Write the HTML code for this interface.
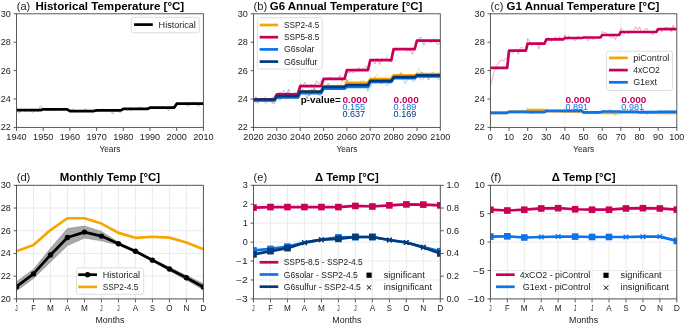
<!DOCTYPE html>
<html><head><meta charset="utf-8"><style>html,body{margin:0;padding:0;background:#fff;overflow:hidden}svg{display:block;will-change:transform}text{font-family:"Liberation Sans",sans-serif}</style></head><body>
<svg width="685" height="324" viewBox="0 0 685 324" font-family="Liberation Sans, sans-serif">
<rect width="685" height="324" fill="#ffffff"/>
<clipPath id="ca"><rect x="16.5" y="13.8" width="186.9" height="113.60000000000001"/></clipPath>
<g clip-path="url(#ca)">
<polyline points="16.50,107.47 19.17,113.34 21.84,109.54 24.51,110.80 27.18,110.65 29.85,110.35 32.52,112.66 35.19,110.37 37.86,111.18 40.53,105.83 43.20,109.08 45.87,109.82 48.54,109.73 51.21,110.22 53.88,110.71 56.55,109.87 59.22,108.75 61.89,109.67 64.56,108.14 67.23,109.62 69.90,111.04 72.57,109.09 75.24,110.37 77.91,111.72 80.58,111.30 83.25,110.38 85.92,108.60 88.59,111.41 91.26,111.38 93.93,109.79 96.60,111.49 99.27,110.73 101.94,109.23 104.61,109.62 107.28,110.24 109.95,109.50 112.62,113.97 115.29,109.05 117.96,111.59 120.63,112.49 123.30,108.59 125.97,108.04 128.64,109.51 131.31,110.32 133.98,108.91 136.65,109.01 139.32,107.14 141.99,107.98 144.66,108.69 147.33,107.52 150.00,107.92 152.67,108.85 155.34,106.92 158.01,106.92 160.68,107.94 163.35,108.66 166.02,107.37 168.69,110.85 171.36,106.78 174.03,107.03 176.70,105.78 179.37,103.61 182.04,104.92 184.71,102.72 187.38,106.29 190.05,104.85 192.72,102.78 195.39,102.21 198.06,106.44 200.73,104.32 203.40,103.27" fill="none" stroke="#a0a0a0" stroke-width="0.7" stroke-linejoin="round" stroke-linecap="butt" />
<polyline points="16.50,110.08 19.17,110.08 21.84,110.08 24.51,110.08 27.18,110.08 29.85,110.08 32.52,110.08 35.19,110.08 37.86,110.08 40.53,110.08 43.20,109.37 45.87,109.37 48.54,109.37 51.21,109.37 53.88,109.37 56.55,109.37 59.22,109.37 61.89,109.37 64.56,109.37 67.23,109.37 69.90,111.07 72.57,111.07 75.24,111.07 77.91,111.07 80.58,111.07 83.25,111.07 85.92,111.07 88.59,111.07 91.26,111.07 93.93,111.07 96.60,110.36 99.27,110.36 101.94,110.36 104.61,110.36 107.28,110.36 109.95,110.36 112.62,110.36 115.29,110.36 117.96,110.36 120.63,110.36 123.30,108.94 125.97,108.94 128.64,108.94 131.31,108.94 133.98,108.94 136.65,108.94 139.32,108.94 141.99,108.94 144.66,108.94 147.33,108.94 150.00,107.66 152.67,107.66 155.34,107.66 158.01,107.66 160.68,107.66 163.35,107.66 166.02,107.66 168.69,107.66 171.36,107.66 174.03,107.66 176.70,103.69 179.37,103.69 182.04,103.69 184.71,103.69 187.38,103.69 190.05,103.69 192.72,103.69 195.39,103.69 198.06,103.69 200.73,103.69 203.40,103.69" fill="none" stroke="#000000" stroke-width="2.7" stroke-linejoin="round" stroke-linecap="butt" />
</g>
<rect x="16.5" y="13.8" width="186.90" height="113.60" fill="none" stroke="#474747" stroke-width="0.9"/>
<line x1="16.50" y1="127.40" x2="16.50" y2="130.90" stroke="#474747" stroke-width="0.9" />
<text x="6.38" y="139.70" font-size="8.42" textLength="20.23" lengthAdjust="spacingAndGlyphs" fill="#1c1c1c">1940</text>
<line x1="43.20" y1="127.40" x2="43.20" y2="130.90" stroke="#474747" stroke-width="0.9" />
<text x="33.08" y="139.70" font-size="8.42" textLength="20.23" lengthAdjust="spacingAndGlyphs" fill="#1c1c1c">1950</text>
<line x1="69.90" y1="127.40" x2="69.90" y2="130.90" stroke="#474747" stroke-width="0.9" />
<text x="59.78" y="139.70" font-size="8.42" textLength="20.23" lengthAdjust="spacingAndGlyphs" fill="#1c1c1c">1960</text>
<line x1="96.60" y1="127.40" x2="96.60" y2="130.90" stroke="#474747" stroke-width="0.9" />
<text x="86.48" y="139.70" font-size="8.42" textLength="20.23" lengthAdjust="spacingAndGlyphs" fill="#1c1c1c">1970</text>
<line x1="123.30" y1="127.40" x2="123.30" y2="130.90" stroke="#474747" stroke-width="0.9" />
<text x="113.18" y="139.70" font-size="8.42" textLength="20.23" lengthAdjust="spacingAndGlyphs" fill="#1c1c1c">1980</text>
<line x1="150.00" y1="127.40" x2="150.00" y2="130.90" stroke="#474747" stroke-width="0.9" />
<text x="139.88" y="139.70" font-size="8.42" textLength="20.23" lengthAdjust="spacingAndGlyphs" fill="#1c1c1c">1990</text>
<line x1="176.70" y1="127.40" x2="176.70" y2="130.90" stroke="#474747" stroke-width="0.9" />
<text x="166.58" y="139.70" font-size="8.42" textLength="20.23" lengthAdjust="spacingAndGlyphs" fill="#1c1c1c">2000</text>
<line x1="203.40" y1="127.40" x2="203.40" y2="130.90" stroke="#474747" stroke-width="0.9" />
<text x="193.28" y="139.70" font-size="8.42" textLength="20.23" lengthAdjust="spacingAndGlyphs" fill="#1c1c1c">2010</text>
<line x1="13.60" y1="127.40" x2="16.50" y2="127.40" stroke="#474747" stroke-width="0.9" />
<text x="0.68" y="130.40" font-size="8.42" textLength="10.12" lengthAdjust="spacingAndGlyphs" fill="#1c1c1c">22</text>
<line x1="13.60" y1="99.00" x2="16.50" y2="99.00" stroke="#474747" stroke-width="0.9" />
<text x="0.68" y="102.00" font-size="8.42" textLength="10.12" lengthAdjust="spacingAndGlyphs" fill="#1c1c1c">24</text>
<line x1="13.60" y1="70.60" x2="16.50" y2="70.60" stroke="#474747" stroke-width="0.9" />
<text x="0.68" y="73.60" font-size="8.42" textLength="10.12" lengthAdjust="spacingAndGlyphs" fill="#1c1c1c">26</text>
<line x1="13.60" y1="42.20" x2="16.50" y2="42.20" stroke="#474747" stroke-width="0.9" />
<text x="0.68" y="45.20" font-size="8.42" textLength="10.12" lengthAdjust="spacingAndGlyphs" fill="#1c1c1c">28</text>
<line x1="13.60" y1="13.80" x2="16.50" y2="13.80" stroke="#474747" stroke-width="0.9" />
<text x="0.68" y="16.80" font-size="8.42" textLength="10.12" lengthAdjust="spacingAndGlyphs" fill="#1c1c1c">30</text>
<text x="99.46" y="151.60" font-size="8.42" textLength="20.97" lengthAdjust="spacingAndGlyphs" fill="#1c1c1c">Years</text>
<text x="16.75" y="9.50" font-size="10.23" textLength="13.44" lengthAdjust="spacingAndGlyphs" fill="#1c1c1c">(a)</text>
<text x="35.40" y="9.50" font-size="10.23" textLength="148.84" lengthAdjust="spacingAndGlyphs" font-weight="bold" fill="#000">Historical Temperature [°C]</text>
<rect x="131.40" y="17.30" width="68.00" height="15.50" rx="2" ry="2" fill="#ffffff" fill-opacity="0.92" stroke="#d6d6d6" stroke-width="0.8"/>
<line x1="134.10" y1="24.60" x2="152.80" y2="24.60" stroke="#000" stroke-width="2.7" />
<text x="158.60" y="27.60" font-size="8.42" textLength="37.24" lengthAdjust="spacingAndGlyphs" fill="#1c1c1c">Historical</text>
<clipPath id="cb"><rect x="253.5" y="13.8" width="186.8" height="113.60000000000001"/></clipPath>
<line x1="300.20" y1="13.80" x2="300.20" y2="127.40" stroke="#c9d3dc" stroke-width="0.8" stroke-dasharray="1,1.6"/>
<line x1="370.25" y1="13.80" x2="370.25" y2="127.40" stroke="#c9d3dc" stroke-width="0.8" stroke-dasharray="1,1.6"/>
<g clip-path="url(#cb)">
<polyline points="253.50,101.07 255.84,95.76 258.17,102.48 260.50,98.74 262.84,102.13 265.18,96.21 267.51,99.65 269.85,100.50 272.18,103.75 274.51,95.54 276.85,94.18 279.19,94.18 281.52,93.25 283.86,95.16 286.19,97.54 288.52,97.93 290.86,97.93 293.19,92.69 295.53,99.53 297.87,97.44 300.20,92.28 302.54,90.96 304.87,90.11 307.20,94.52 309.54,95.68 311.88,91.51 314.21,88.57 316.55,89.67 318.88,90.98 321.22,92.27 323.55,85.69 325.88,86.99 328.22,84.43 330.56,88.32 332.89,86.08 335.23,86.67 337.56,85.09 339.89,85.86 342.23,80.24 344.56,82.78 346.90,79.19 349.24,87.72 351.57,83.62 353.90,84.27 356.24,81.51 358.57,88.30 360.91,79.96 363.25,80.22 365.58,85.94 367.92,85.16 370.25,81.03 372.58,79.00 374.92,77.55 377.25,74.16 379.59,79.58 381.93,77.25 384.26,78.72 386.60,74.85 388.93,77.31 391.26,75.80 393.60,78.00 395.94,75.86 398.27,77.36 400.61,71.77 402.94,73.81 405.27,76.14 407.61,76.49 409.95,74.23 412.28,77.09 414.62,77.65 416.95,72.94 419.28,68.15 421.62,74.69 423.96,75.44 426.29,76.93 428.62,77.32 430.96,72.83 433.30,72.05 435.63,74.08 437.97,73.30 440.30,73.82" fill="none" stroke="#F7A600" stroke-width="0.7" stroke-linejoin="round" stroke-linecap="butt" stroke-opacity="0.5"/>
<polyline points="253.50,99.07 255.84,103.08 258.17,100.51 260.50,99.13 262.84,101.29 265.18,100.55 267.51,101.38 269.85,100.21 272.18,97.34 274.51,100.38 276.85,94.67 279.19,92.34 281.52,92.74 283.86,90.21 286.19,99.35 288.52,92.23 290.86,95.46 293.19,93.97 295.53,92.28 297.87,91.69 300.20,83.69 302.54,85.83 304.87,82.31 307.20,86.88 309.54,86.54 311.88,84.27 314.21,87.53 316.55,80.98 318.88,83.74 321.22,80.95 323.55,78.96 325.88,79.82 328.22,78.50 330.56,77.13 332.89,80.32 335.23,77.98 337.56,78.94 339.89,75.00 342.23,80.50 344.56,76.37 346.90,71.65 349.24,72.42 351.57,71.81 353.90,72.97 356.24,69.75 358.57,67.61 360.91,69.70 363.25,68.59 365.58,66.16 367.92,69.45 370.25,59.73 372.58,60.86 374.92,64.08 377.25,58.37 379.59,64.44 381.93,58.62 384.26,60.23 386.60,57.48 388.93,60.36 391.26,62.19 393.60,48.24 395.94,50.45 398.27,49.54 400.61,49.00 402.94,49.42 405.27,49.56 407.61,51.11 409.95,49.56 412.28,54.26 414.62,49.48 416.95,43.49 419.28,37.90 421.62,37.53 423.96,45.31 426.29,40.25 428.62,40.91 430.96,43.13 433.30,39.32 435.63,41.71 437.97,44.87 440.30,41.24" fill="none" stroke="#C8005A" stroke-width="0.7" stroke-linejoin="round" stroke-linecap="butt" stroke-opacity="0.5"/>
<polyline points="253.50,100.76 255.84,100.14 258.17,103.37 260.50,98.91 262.84,98.62 265.18,103.17 267.51,101.99 269.85,100.59 272.18,101.77 274.51,96.19 276.85,97.00 279.19,99.94 281.52,99.40 283.86,97.64 286.19,91.96 288.52,97.93 290.86,97.19 293.19,96.26 295.53,97.60 297.87,91.99 300.20,94.48 302.54,91.40 304.87,92.81 307.20,91.70 309.54,96.04 311.88,88.93 314.21,93.49 316.55,93.12 318.88,95.46 321.22,94.96 323.55,87.24 325.88,86.22 328.22,86.78 330.56,85.68 332.89,86.88 335.23,88.53 337.56,86.58 339.89,87.17 342.23,88.84 344.56,86.85 346.90,83.80 349.24,86.33 351.57,87.76 353.90,85.17 356.24,82.31 358.57,87.41 360.91,87.12 363.25,87.23 365.58,83.95 367.92,91.33 370.25,81.12 372.58,79.12 374.92,83.96 377.25,78.41 379.59,80.71 381.93,83.33 384.26,81.51 386.60,85.70 388.93,83.37 391.26,77.59 393.60,80.36 395.94,73.75 398.27,78.40 400.61,75.80 402.94,78.09 405.27,83.61 407.61,79.58 409.95,77.74 412.28,80.98 414.62,81.45 416.95,75.42 419.28,77.87 421.62,80.39 423.96,77.95 426.29,74.22 428.62,77.44 430.96,74.04 433.30,72.61 435.63,76.22 437.97,79.03 440.30,79.44" fill="none" stroke="#0C73EB" stroke-width="0.7" stroke-linejoin="round" stroke-linecap="butt" stroke-opacity="0.5"/>
<polyline points="253.50,99.66 255.84,97.47 258.17,98.95 260.50,98.28 262.84,100.67 265.18,98.87 267.51,100.74 269.85,100.39 272.18,102.72 274.51,103.40 276.85,97.36 279.19,98.87 281.52,98.51 283.86,94.58 286.19,96.46 288.52,89.17 290.86,93.96 293.19,97.73 295.53,94.32 297.87,95.34 300.20,93.26 302.54,88.94 304.87,93.47 307.20,98.98 309.54,89.68 311.88,93.09 314.21,88.01 316.55,93.17 318.88,94.45 321.22,87.86 323.55,89.40 325.88,86.31 328.22,83.30 330.56,86.52 332.89,86.99 335.23,86.55 337.56,84.77 339.89,88.75 342.23,85.33 344.56,85.41 346.90,79.37 349.24,85.81 351.57,87.21 353.90,83.22 356.24,85.96 358.57,84.30 360.91,84.68 363.25,82.18 365.58,86.59 367.92,85.22 370.25,87.06 372.58,83.05 374.92,77.19 377.25,82.55 379.59,82.59 381.93,83.84 384.26,79.50 386.60,80.47 388.93,83.77 391.26,79.29 393.60,76.57 395.94,75.38 398.27,78.75 400.61,73.00 402.94,76.21 405.27,77.48 407.61,78.45 409.95,77.79 412.28,75.13 414.62,77.85 416.95,72.80 419.28,74.00 421.62,72.15 423.96,73.43 426.29,75.55 428.62,80.01 430.96,74.68 433.30,73.50 435.63,75.01 437.97,74.06 440.30,76.54" fill="none" stroke="#033B79" stroke-width="0.7" stroke-linejoin="round" stroke-linecap="butt" stroke-opacity="0.5"/>
<polyline points="253.50,99.60 255.84,99.60 258.17,99.60 260.50,99.60 262.84,99.60 265.18,99.60 267.51,99.60 269.85,99.60 272.18,99.60 274.51,99.60 276.85,96.00 279.19,96.00 281.52,96.00 283.86,96.00 286.19,96.00 288.52,96.00 290.86,96.00 293.19,96.00 295.53,96.00 297.87,96.00 300.20,91.50 302.54,91.50 304.87,91.50 307.20,91.50 309.54,91.50 311.88,91.50 314.21,91.50 316.55,91.50 318.88,91.50 321.22,91.50 323.55,86.40 325.88,86.40 328.22,86.40 330.56,86.40 332.89,86.40 335.23,86.40 337.56,86.40 339.89,86.40 342.23,86.40 344.56,86.40 346.90,82.80 349.24,82.80 351.57,82.80 353.90,82.80 356.24,82.80 358.57,82.80 360.91,82.80 363.25,82.80 365.58,82.80 367.92,82.80 370.25,79.10 372.58,79.10 374.92,79.10 377.25,79.10 379.59,79.10 381.93,79.10 384.26,79.10 386.60,79.10 388.93,79.10 391.26,79.10 393.60,75.40 395.94,75.40 398.27,75.40 400.61,75.40 402.94,75.40 405.27,75.40 407.61,75.40 409.95,75.40 412.28,75.40 414.62,75.40 416.95,74.10 419.28,74.10 421.62,74.10 423.96,74.10 426.29,74.10 428.62,74.10 430.96,74.10 433.30,74.10 435.63,74.10 437.97,74.10 440.30,74.10" fill="none" stroke="#F7A600" stroke-width="2.7" stroke-linejoin="round" stroke-linecap="butt" />
<polyline points="253.50,99.40 255.84,99.40 258.17,99.40 260.50,99.40 262.84,99.40 265.18,99.40 267.51,99.40 269.85,99.40 272.18,99.40 274.51,99.40 276.85,94.30 279.19,94.30 281.52,94.30 283.86,94.30 286.19,94.30 288.52,94.30 290.86,94.30 293.19,94.30 295.53,94.30 297.87,94.30 300.20,86.20 302.54,86.20 304.87,86.20 307.20,86.20 309.54,86.20 311.88,86.20 314.21,86.20 316.55,86.20 318.88,86.20 321.22,86.20 323.55,78.90 325.88,78.90 328.22,78.90 330.56,78.90 332.89,78.90 335.23,78.90 337.56,78.90 339.89,78.90 342.23,78.90 344.56,78.90 346.90,70.10 349.24,70.10 351.57,70.10 353.90,70.10 356.24,70.10 358.57,70.10 360.91,70.10 363.25,70.10 365.58,70.10 367.92,70.10 370.25,60.20 372.58,60.20 374.92,60.20 377.25,60.20 379.59,60.20 381.93,60.20 384.26,60.20 386.60,60.20 388.93,60.20 391.26,60.20 393.60,49.10 395.94,49.10 398.27,49.10 400.61,49.10 402.94,49.10 405.27,49.10 407.61,49.10 409.95,49.10 412.28,49.10 414.62,49.10 416.95,40.60 419.28,40.60 421.62,40.60 423.96,40.60 426.29,40.60 428.62,40.60 430.96,40.60 433.30,40.60 435.63,40.60 437.97,40.60 440.30,40.60" fill="none" stroke="#C8005A" stroke-width="2.7" stroke-linejoin="round" stroke-linecap="butt" />
<polyline points="253.50,100.40 255.84,100.40 258.17,100.40 260.50,100.40 262.84,100.40 265.18,100.40 267.51,100.40 269.85,100.40 272.18,100.40 274.51,100.40 276.85,97.50 279.19,97.50 281.52,97.50 283.86,97.50 286.19,97.50 288.52,97.50 290.86,97.50 293.19,97.50 295.53,97.50 297.87,97.50 300.20,93.20 302.54,93.20 304.87,93.20 307.20,93.20 309.54,93.20 311.88,93.20 314.21,93.20 316.55,93.20 318.88,93.20 321.22,93.20 323.55,88.60 325.88,88.60 328.22,88.60 330.56,88.60 332.89,88.60 335.23,88.60 337.56,88.60 339.89,88.60 342.23,88.60 344.56,88.60 346.90,86.90 349.24,86.90 351.57,86.90 353.90,86.90 356.24,86.90 358.57,86.90 360.91,86.90 363.25,86.90 365.58,86.90 367.92,86.90 370.25,82.00 372.58,82.00 374.92,82.00 377.25,82.00 379.59,82.00 381.93,82.00 384.26,82.00 386.60,82.00 388.93,82.00 391.26,82.00 393.60,78.20 395.94,78.20 398.27,78.20 400.61,78.20 402.94,78.20 405.27,78.20 407.61,78.20 409.95,78.20 412.28,78.20 414.62,78.20 416.95,76.30 419.28,76.30 421.62,76.30 423.96,76.30 426.29,76.30 428.62,76.30 430.96,76.30 433.30,76.30 435.63,76.30 437.97,76.30 440.30,76.30" fill="none" stroke="#0C73EB" stroke-width="2.7" stroke-linejoin="round" stroke-linecap="butt" />
<polyline points="253.50,99.60 255.84,99.60 258.17,99.60 260.50,99.60 262.84,99.60 265.18,99.60 267.51,99.60 269.85,99.60 272.18,99.60 274.51,99.60 276.85,96.20 279.19,96.20 281.52,96.20 283.86,96.20 286.19,96.20 288.52,96.20 290.86,96.20 293.19,96.20 295.53,96.20 297.87,96.20 300.20,91.60 302.54,91.60 304.87,91.60 307.20,91.60 309.54,91.60 311.88,91.60 314.21,91.60 316.55,91.60 318.88,91.60 321.22,91.60 323.55,86.80 325.88,86.80 328.22,86.80 330.56,86.80 332.89,86.80 335.23,86.80 337.56,86.80 339.89,86.80 342.23,86.80 344.56,86.80 346.90,85.00 349.24,85.00 351.57,85.00 353.90,85.00 356.24,85.00 358.57,85.00 360.91,85.00 363.25,85.00 365.58,85.00 367.92,85.00 370.25,80.90 372.58,80.90 374.92,80.90 377.25,80.90 379.59,80.90 381.93,80.90 384.26,80.90 386.60,80.90 388.93,80.90 391.26,80.90 393.60,77.20 395.94,77.20 398.27,77.20 400.61,77.20 402.94,77.20 405.27,77.20 407.61,77.20 409.95,77.20 412.28,77.20 414.62,77.20 416.95,75.40 419.28,75.40 421.62,75.40 423.96,75.40 426.29,75.40 428.62,75.40 430.96,75.40 433.30,75.40 435.63,75.40 437.97,75.40 440.30,75.40" fill="none" stroke="#033B79" stroke-width="2.7" stroke-linejoin="round" stroke-linecap="butt" />
</g>
<rect x="253.5" y="13.8" width="186.80" height="113.60" fill="none" stroke="#474747" stroke-width="0.9"/>
<line x1="253.50" y1="127.40" x2="253.50" y2="130.90" stroke="#474747" stroke-width="0.9" />
<text x="243.38" y="139.70" font-size="8.42" textLength="20.23" lengthAdjust="spacingAndGlyphs" fill="#1c1c1c">2020</text>
<line x1="276.85" y1="127.40" x2="276.85" y2="130.90" stroke="#474747" stroke-width="0.9" />
<text x="266.73" y="139.70" font-size="8.42" textLength="20.23" lengthAdjust="spacingAndGlyphs" fill="#1c1c1c">2030</text>
<line x1="300.20" y1="127.40" x2="300.20" y2="130.90" stroke="#474747" stroke-width="0.9" />
<text x="290.08" y="139.70" font-size="8.42" textLength="20.23" lengthAdjust="spacingAndGlyphs" fill="#1c1c1c">2040</text>
<line x1="323.55" y1="127.40" x2="323.55" y2="130.90" stroke="#474747" stroke-width="0.9" />
<text x="313.43" y="139.70" font-size="8.42" textLength="20.23" lengthAdjust="spacingAndGlyphs" fill="#1c1c1c">2050</text>
<line x1="346.90" y1="127.40" x2="346.90" y2="130.90" stroke="#474747" stroke-width="0.9" />
<text x="336.78" y="139.70" font-size="8.42" textLength="20.23" lengthAdjust="spacingAndGlyphs" fill="#1c1c1c">2060</text>
<line x1="370.25" y1="127.40" x2="370.25" y2="130.90" stroke="#474747" stroke-width="0.9" />
<text x="360.13" y="139.70" font-size="8.42" textLength="20.23" lengthAdjust="spacingAndGlyphs" fill="#1c1c1c">2070</text>
<line x1="393.60" y1="127.40" x2="393.60" y2="130.90" stroke="#474747" stroke-width="0.9" />
<text x="383.48" y="139.70" font-size="8.42" textLength="20.23" lengthAdjust="spacingAndGlyphs" fill="#1c1c1c">2080</text>
<line x1="416.95" y1="127.40" x2="416.95" y2="130.90" stroke="#474747" stroke-width="0.9" />
<text x="406.83" y="139.70" font-size="8.42" textLength="20.23" lengthAdjust="spacingAndGlyphs" fill="#1c1c1c">2090</text>
<line x1="440.30" y1="127.40" x2="440.30" y2="130.90" stroke="#474747" stroke-width="0.9" />
<text x="430.18" y="139.70" font-size="8.42" textLength="20.23" lengthAdjust="spacingAndGlyphs" fill="#1c1c1c">2100</text>
<line x1="250.60" y1="127.40" x2="253.50" y2="127.40" stroke="#474747" stroke-width="0.9" />
<text x="237.68" y="130.40" font-size="8.42" textLength="10.12" lengthAdjust="spacingAndGlyphs" fill="#1c1c1c">22</text>
<line x1="250.60" y1="99.00" x2="253.50" y2="99.00" stroke="#474747" stroke-width="0.9" />
<text x="237.68" y="102.00" font-size="8.42" textLength="10.12" lengthAdjust="spacingAndGlyphs" fill="#1c1c1c">24</text>
<line x1="250.60" y1="70.60" x2="253.50" y2="70.60" stroke="#474747" stroke-width="0.9" />
<text x="237.68" y="73.60" font-size="8.42" textLength="10.12" lengthAdjust="spacingAndGlyphs" fill="#1c1c1c">26</text>
<line x1="250.60" y1="42.20" x2="253.50" y2="42.20" stroke="#474747" stroke-width="0.9" />
<text x="237.68" y="45.20" font-size="8.42" textLength="10.12" lengthAdjust="spacingAndGlyphs" fill="#1c1c1c">28</text>
<line x1="250.60" y1="13.80" x2="253.50" y2="13.80" stroke="#474747" stroke-width="0.9" />
<text x="237.68" y="16.80" font-size="8.42" textLength="10.12" lengthAdjust="spacingAndGlyphs" fill="#1c1c1c">30</text>
<text x="336.41" y="151.60" font-size="8.42" textLength="20.97" lengthAdjust="spacingAndGlyphs" fill="#1c1c1c">Years</text>
<text x="253.60" y="9.50" font-size="10.23" textLength="13.66" lengthAdjust="spacingAndGlyphs" fill="#1c1c1c">(b)</text>
<text x="269.70" y="9.50" font-size="10.23" textLength="152.75" lengthAdjust="spacingAndGlyphs" font-weight="bold" fill="#000">G6 Annual Temperature [°C]</text>
<rect x="257.40" y="17.60" width="64.80" height="51.40" rx="2" ry="2" fill="#ffffff" fill-opacity="0.92" stroke="#d6d6d6" stroke-width="0.8"/>
<line x1="259.60" y1="25.00" x2="278.10" y2="25.00" stroke="#F7A600" stroke-width="2.7" />
<text x="283.90" y="28.00" font-size="8.42" textLength="35.46" lengthAdjust="spacingAndGlyphs" fill="#1c1c1c">SSP2-4.5</text>
<line x1="259.60" y1="37.20" x2="278.10" y2="37.20" stroke="#C8005A" stroke-width="2.7" />
<text x="283.90" y="40.20" font-size="8.42" textLength="35.46" lengthAdjust="spacingAndGlyphs" fill="#1c1c1c">SSP5-8.5</text>
<line x1="259.60" y1="49.40" x2="278.10" y2="49.40" stroke="#0C73EB" stroke-width="2.7" />
<text x="283.90" y="52.40" font-size="8.42" textLength="30.57" lengthAdjust="spacingAndGlyphs" fill="#1c1c1c">G6solar</text>
<line x1="259.60" y1="61.60" x2="278.10" y2="61.60" stroke="#033B79" stroke-width="2.7" />
<text x="283.90" y="64.60" font-size="8.42" textLength="33.71" lengthAdjust="spacingAndGlyphs" fill="#1c1c1c">G6sulfur</text>
<text x="300.80" y="102.80" font-size="8.42" textLength="39.98" lengthAdjust="spacingAndGlyphs" font-weight="bold" fill="#000000">p-value=</text>
<text x="342.40" y="102.80" font-size="8.42" textLength="25.15" lengthAdjust="spacingAndGlyphs" font-weight="bold" fill="#C8005A">0.000</text>
<text x="342.40" y="109.70" font-size="8.42" textLength="22.76" lengthAdjust="spacingAndGlyphs" fill="#0C73EB">0.155</text>
<text x="342.40" y="116.70" font-size="8.42" textLength="22.76" lengthAdjust="spacingAndGlyphs" fill="#033B79">0.637</text>
<text x="393.60" y="102.80" font-size="8.42" textLength="25.15" lengthAdjust="spacingAndGlyphs" font-weight="bold" fill="#C8005A">0.000</text>
<text x="393.60" y="109.70" font-size="8.42" textLength="22.76" lengthAdjust="spacingAndGlyphs" fill="#0C73EB">0.189</text>
<text x="393.60" y="116.70" font-size="8.42" textLength="22.76" lengthAdjust="spacingAndGlyphs" fill="#033B79">0.169</text>
<clipPath id="cc"><rect x="490.4" y="13.8" width="186.39999999999998" height="113.60000000000001"/></clipPath>
<line x1="564.96" y1="13.80" x2="564.96" y2="127.40" stroke="#c9d3dc" stroke-width="0.8" stroke-dasharray="1,1.6"/>
<line x1="620.88" y1="13.80" x2="620.88" y2="127.40" stroke="#c9d3dc" stroke-width="0.8" stroke-dasharray="1,1.6"/>
<g clip-path="url(#cc)">
<polyline points="490.40,113.33 492.26,113.97 494.13,111.35 495.99,112.72 497.86,113.46 499.72,114.41 501.58,113.07 503.45,111.26 505.31,112.38 507.18,113.72 509.04,110.28 510.90,110.28 512.77,110.79 514.63,111.00 516.50,110.59 518.36,111.28 520.22,111.02 522.09,112.79 523.95,110.20 525.82,111.64 527.68,107.90 529.54,112.52 531.41,109.40 533.27,109.09 535.14,110.59 537.00,109.69 538.86,109.35 540.73,109.54 542.59,110.81 544.46,110.36 546.32,109.94 548.18,109.65 550.05,110.99 551.91,111.01 553.78,110.87 555.64,109.92 557.50,112.30 559.37,112.61 561.23,110.96 563.10,112.36 564.96,111.97 566.82,111.20 568.69,110.75 570.55,112.52 572.42,110.39 574.28,113.31 576.14,110.68 578.01,113.09 579.87,112.75 581.74,110.57 583.60,113.06 585.46,113.50 587.33,113.11 589.19,112.07 591.06,112.66 592.92,112.63 594.78,111.40 596.65,113.41 598.51,113.14 600.38,113.19 602.24,111.67 604.10,111.87 605.97,111.54 607.83,113.04 609.70,113.18 611.56,112.03 613.42,113.45 615.29,112.06 617.15,112.18 619.02,113.79 620.88,112.29 622.74,112.34 624.61,110.23 626.47,109.26 628.34,112.31 630.20,112.18 632.06,114.79 633.93,111.96 635.79,112.21 637.66,113.42 639.52,111.71 641.38,114.38 643.25,112.84 645.11,112.44 646.98,114.02 648.84,111.63 650.70,111.40 652.57,114.17 654.43,114.20 656.30,111.92 658.16,112.93 660.02,114.28 661.89,113.24 663.75,113.02 665.62,113.06 667.48,111.96 669.34,112.46 671.21,110.89 673.07,111.34 674.94,112.13 676.80,111.68" fill="none" stroke="#F7A600" stroke-width="0.7" stroke-linejoin="round" stroke-linecap="butt" stroke-opacity="0.5"/>
<polyline points="490.40,111.40 492.26,112.10 494.13,114.29 495.99,111.92 497.86,112.82 499.72,111.06 501.58,112.79 503.45,112.30 505.31,112.53 507.18,110.99 509.04,111.70 510.90,112.21 512.77,111.55 514.63,112.40 516.50,111.72 518.36,111.91 520.22,111.59 522.09,109.72 523.95,112.36 525.82,111.86 527.68,112.43 529.54,111.44 531.41,113.54 533.27,112.99 535.14,112.24 537.00,111.58 538.86,112.25 540.73,112.77 542.59,113.18 544.46,111.62 546.32,109.26 548.18,110.53 550.05,110.69 551.91,110.40 553.78,111.97 555.64,111.25 557.50,111.20 559.37,110.56 561.23,110.94 563.10,112.28 564.96,109.62 566.82,108.98 568.69,111.20 570.55,110.45 572.42,110.60 574.28,110.01 576.14,112.58 578.01,109.07 579.87,111.43 581.74,109.46 583.60,112.31 585.46,112.84 587.33,112.56 589.19,111.38 591.06,113.38 592.92,112.83 594.78,112.95 596.65,114.35 598.51,110.92 600.38,111.74 602.24,111.52 604.10,110.18 605.97,112.59 607.83,111.58 609.70,109.54 611.56,110.39 613.42,114.03 615.29,115.29 617.15,112.68 619.02,110.29 620.88,112.34 622.74,112.05 624.61,111.11 626.47,112.81 628.34,111.56 630.20,110.90 632.06,111.27 633.93,111.35 635.79,112.48 637.66,111.22 639.52,112.69 641.38,110.72 643.25,109.28 645.11,113.04 646.98,114.67 648.84,112.68 650.70,111.77 652.57,111.01 654.43,110.97 656.30,113.09 658.16,112.80 660.02,110.46 661.89,113.14 663.75,110.66 665.62,112.16 667.48,111.03 669.34,111.10 671.21,111.02 673.07,110.97 674.94,113.02 676.80,111.56" fill="none" stroke="#0C73EB" stroke-width="0.7" stroke-linejoin="round" stroke-linecap="butt" stroke-opacity="0.5"/>
<polyline points="490.40,85.60 492.26,79.61 494.13,71.77 495.99,67.49 497.86,63.94 499.72,60.88 501.58,60.03 503.45,60.85 505.31,58.76 507.18,57.71 509.04,49.98 510.90,51.08 512.77,53.44 514.63,50.08 516.50,49.13 518.36,54.36 520.22,48.06 522.09,47.09 523.95,49.88 525.82,49.55 527.68,38.56 529.54,41.08 531.41,45.61 533.27,43.74 535.14,44.03 537.00,44.02 538.86,48.74 540.73,42.09 542.59,45.06 544.46,43.35 546.32,39.69 548.18,37.54 550.05,40.03 551.91,41.09 553.78,38.27 555.64,36.41 557.50,40.08 559.37,36.48 561.23,38.84 563.10,40.53 564.96,34.75 566.82,39.74 568.69,35.84 570.55,39.06 572.42,37.04 574.28,40.63 576.14,39.78 578.01,35.73 579.87,37.60 581.74,37.92 583.60,38.44 585.46,36.55 587.33,40.48 589.19,39.89 591.06,37.84 592.92,39.28 594.78,38.99 596.65,37.65 598.51,37.79 600.38,37.97 602.24,31.45 604.10,32.85 605.97,32.38 607.83,35.06 609.70,36.07 611.56,38.10 613.42,35.74 615.29,39.44 617.15,36.24 619.02,33.37 620.88,28.55 622.74,29.94 624.61,33.84 626.47,30.95 628.34,33.68 630.20,30.25 632.06,32.24 633.93,30.17 635.79,26.52 637.66,30.04 639.52,27.03 641.38,31.62 643.25,32.70 645.11,29.16 646.98,28.33 648.84,33.18 650.70,31.84 652.57,35.06 654.43,32.43 656.30,30.11 658.16,29.23 660.02,30.26 661.89,32.05 663.75,28.27 665.62,27.35 667.48,27.78 669.34,28.51 671.21,31.76 673.07,25.30 674.94,29.17 676.80,29.36" fill="none" stroke="#C8005A" stroke-width="0.7" stroke-linejoin="round" stroke-linecap="butt" stroke-opacity="0.5"/>
<polyline points="490.40,112.90 492.26,112.90 494.13,112.90 495.99,112.90 497.86,112.90 499.72,112.90 501.58,112.90 503.45,112.90 505.31,112.90 507.18,112.90 509.04,111.90 510.90,111.90 512.77,111.90 514.63,111.90 516.50,111.90 518.36,111.90 520.22,111.90 522.09,111.90 523.95,111.90 525.82,111.90 527.68,110.20 529.54,110.20 531.41,110.20 533.27,110.20 535.14,110.20 537.00,110.20 538.86,110.20 540.73,110.20 542.59,110.20 544.46,110.20 546.32,111.10 548.18,111.10 550.05,111.10 551.91,111.10 553.78,111.10 555.64,111.10 557.50,111.10 559.37,111.10 561.23,111.10 563.10,111.10 564.96,111.30 566.82,111.30 568.69,111.30 570.55,111.30 572.42,111.30 574.28,111.30 576.14,111.30 578.01,111.30 579.87,111.30 581.74,111.30 583.60,112.60 585.46,112.60 587.33,112.60 589.19,112.60 591.06,112.60 592.92,112.60 594.78,112.60 596.65,112.60 598.51,112.60 600.38,112.60 602.24,113.00 604.10,113.00 605.97,113.00 607.83,113.00 609.70,113.00 611.56,113.00 613.42,113.00 615.29,113.00 617.15,113.00 619.02,113.00 620.88,112.20 622.74,112.20 624.61,112.20 626.47,112.20 628.34,112.20 630.20,112.20 632.06,112.20 633.93,112.20 635.79,112.20 637.66,112.20 639.52,112.60 641.38,112.60 643.25,112.60 645.11,112.60 646.98,112.60 648.84,112.60 650.70,112.60 652.57,112.60 654.43,112.60 656.30,112.60 658.16,112.90 660.02,112.90 661.89,112.90 663.75,112.90 665.62,112.90 667.48,112.90 669.34,112.90 671.21,112.90 673.07,112.90 674.94,112.90 676.80,112.90" fill="none" stroke="#F7A600" stroke-width="2.7" stroke-linejoin="round" stroke-linecap="butt" />
<polyline points="490.40,67.80 492.26,67.80 494.13,67.80 495.99,67.80 497.86,67.80 499.72,67.80 501.58,67.80 503.45,67.80 505.31,67.80 507.18,67.80 509.04,50.60 510.90,50.60 512.77,50.60 514.63,50.60 516.50,50.60 518.36,50.60 520.22,50.60 522.09,50.60 523.95,50.60 525.82,50.60 527.68,43.70 529.54,43.70 531.41,43.70 533.27,43.70 535.14,43.70 537.00,43.70 538.86,43.70 540.73,43.70 542.59,43.70 544.46,43.70 546.32,39.40 548.18,39.40 550.05,39.40 551.91,39.40 553.78,39.40 555.64,39.40 557.50,39.40 559.37,39.40 561.23,39.40 563.10,39.40 564.96,38.00 566.82,38.00 568.69,38.00 570.55,38.00 572.42,38.00 574.28,38.00 576.14,38.00 578.01,38.00 579.87,38.00 581.74,38.00 583.60,37.50 585.46,37.50 587.33,37.50 589.19,37.50 591.06,37.50 592.92,37.50 594.78,37.50 596.65,37.50 598.51,37.50 600.38,37.50 602.24,35.00 604.10,35.00 605.97,35.00 607.83,35.00 609.70,35.00 611.56,35.00 613.42,35.00 615.29,35.00 617.15,35.00 619.02,35.00 620.88,32.00 622.74,32.00 624.61,32.00 626.47,32.00 628.34,32.00 630.20,32.00 632.06,32.00 633.93,32.00 635.79,32.00 637.66,32.00 639.52,32.00 641.38,32.00 643.25,32.00 645.11,32.00 646.98,32.00 648.84,32.00 650.70,32.00 652.57,32.00 654.43,32.00 656.30,32.00 658.16,29.05 660.02,29.05 661.89,29.05 663.75,29.05 665.62,29.05 667.48,29.05 669.34,29.05 671.21,29.05 673.07,29.05 674.94,29.05 676.80,29.05" fill="none" stroke="#C8005A" stroke-width="2.7" stroke-linejoin="round" stroke-linecap="butt" />
<polyline points="490.40,112.90 492.26,112.90 494.13,112.90 495.99,112.90 497.86,112.90 499.72,112.90 501.58,112.90 503.45,112.90 505.31,112.90 507.18,112.90 509.04,111.90 510.90,111.90 512.77,111.90 514.63,111.90 516.50,111.90 518.36,111.90 520.22,111.90 522.09,111.90 523.95,111.90 525.82,111.90 527.68,112.20 529.54,112.20 531.41,112.20 533.27,112.20 535.14,112.20 537.00,112.20 538.86,112.20 540.73,112.20 542.59,112.20 544.46,112.20 546.32,110.90 548.18,110.90 550.05,110.90 551.91,110.90 553.78,110.90 555.64,110.90 557.50,110.90 559.37,110.90 561.23,110.90 563.10,110.90 564.96,110.90 566.82,110.90 568.69,110.90 570.55,110.90 572.42,110.90 574.28,110.90 576.14,110.90 578.01,110.90 579.87,110.90 581.74,110.90 583.60,112.40 585.46,112.40 587.33,112.40 589.19,112.40 591.06,112.40 592.92,112.40 594.78,112.40 596.65,112.40 598.51,112.40 600.38,112.40 602.24,111.50 604.10,111.50 605.97,111.50 607.83,111.50 609.70,111.50 611.56,111.50 613.42,111.50 615.29,111.50 617.15,111.50 619.02,111.50 620.88,111.80 622.74,111.80 624.61,111.80 626.47,111.80 628.34,111.80 630.20,111.80 632.06,111.80 633.93,111.80 635.79,111.80 637.66,111.80 639.52,112.20 641.38,112.20 643.25,112.20 645.11,112.20 646.98,112.20 648.84,112.20 650.70,112.20 652.57,112.20 654.43,112.20 656.30,112.20 658.16,111.90 660.02,111.90 661.89,111.90 663.75,111.90 665.62,111.90 667.48,111.90 669.34,111.90 671.21,111.90 673.07,111.90 674.94,111.90 676.80,111.90" fill="none" stroke="#0C73EB" stroke-width="2.7" stroke-linejoin="round" stroke-linecap="butt" />
</g>
<rect x="490.4" y="13.8" width="186.40" height="113.60" fill="none" stroke="#474747" stroke-width="0.9"/>
<line x1="490.40" y1="127.40" x2="490.40" y2="130.90" stroke="#474747" stroke-width="0.9" />
<text x="487.87" y="139.70" font-size="8.42" textLength="5.06" lengthAdjust="spacingAndGlyphs" fill="#1c1c1c">0</text>
<line x1="509.04" y1="127.40" x2="509.04" y2="130.90" stroke="#474747" stroke-width="0.9" />
<text x="503.98" y="139.70" font-size="8.42" textLength="10.12" lengthAdjust="spacingAndGlyphs" fill="#1c1c1c">10</text>
<line x1="527.68" y1="127.40" x2="527.68" y2="130.90" stroke="#474747" stroke-width="0.9" />
<text x="522.62" y="139.70" font-size="8.42" textLength="10.12" lengthAdjust="spacingAndGlyphs" fill="#1c1c1c">20</text>
<line x1="546.32" y1="127.40" x2="546.32" y2="130.90" stroke="#474747" stroke-width="0.9" />
<text x="541.26" y="139.70" font-size="8.42" textLength="10.12" lengthAdjust="spacingAndGlyphs" fill="#1c1c1c">30</text>
<line x1="564.96" y1="127.40" x2="564.96" y2="130.90" stroke="#474747" stroke-width="0.9" />
<text x="559.90" y="139.70" font-size="8.42" textLength="10.12" lengthAdjust="spacingAndGlyphs" fill="#1c1c1c">40</text>
<line x1="583.60" y1="127.40" x2="583.60" y2="130.90" stroke="#474747" stroke-width="0.9" />
<text x="578.54" y="139.70" font-size="8.42" textLength="10.12" lengthAdjust="spacingAndGlyphs" fill="#1c1c1c">50</text>
<line x1="602.24" y1="127.40" x2="602.24" y2="130.90" stroke="#474747" stroke-width="0.9" />
<text x="597.18" y="139.70" font-size="8.42" textLength="10.12" lengthAdjust="spacingAndGlyphs" fill="#1c1c1c">60</text>
<line x1="620.88" y1="127.40" x2="620.88" y2="130.90" stroke="#474747" stroke-width="0.9" />
<text x="615.82" y="139.70" font-size="8.42" textLength="10.12" lengthAdjust="spacingAndGlyphs" fill="#1c1c1c">70</text>
<line x1="639.52" y1="127.40" x2="639.52" y2="130.90" stroke="#474747" stroke-width="0.9" />
<text x="634.46" y="139.70" font-size="8.42" textLength="10.12" lengthAdjust="spacingAndGlyphs" fill="#1c1c1c">80</text>
<line x1="658.16" y1="127.40" x2="658.16" y2="130.90" stroke="#474747" stroke-width="0.9" />
<text x="653.10" y="139.70" font-size="8.42" textLength="10.12" lengthAdjust="spacingAndGlyphs" fill="#1c1c1c">90</text>
<line x1="676.80" y1="127.40" x2="676.80" y2="130.90" stroke="#474747" stroke-width="0.9" />
<text x="669.21" y="139.70" font-size="8.42" textLength="15.17" lengthAdjust="spacingAndGlyphs" fill="#1c1c1c">100</text>
<line x1="487.50" y1="127.40" x2="490.40" y2="127.40" stroke="#474747" stroke-width="0.9" />
<text x="474.58" y="130.40" font-size="8.42" textLength="10.12" lengthAdjust="spacingAndGlyphs" fill="#1c1c1c">22</text>
<line x1="487.50" y1="99.00" x2="490.40" y2="99.00" stroke="#474747" stroke-width="0.9" />
<text x="474.58" y="102.00" font-size="8.42" textLength="10.12" lengthAdjust="spacingAndGlyphs" fill="#1c1c1c">24</text>
<line x1="487.50" y1="70.60" x2="490.40" y2="70.60" stroke="#474747" stroke-width="0.9" />
<text x="474.58" y="73.60" font-size="8.42" textLength="10.12" lengthAdjust="spacingAndGlyphs" fill="#1c1c1c">26</text>
<line x1="487.50" y1="42.20" x2="490.40" y2="42.20" stroke="#474747" stroke-width="0.9" />
<text x="474.58" y="45.20" font-size="8.42" textLength="10.12" lengthAdjust="spacingAndGlyphs" fill="#1c1c1c">28</text>
<line x1="487.50" y1="13.80" x2="490.40" y2="13.80" stroke="#474747" stroke-width="0.9" />
<text x="474.58" y="16.80" font-size="8.42" textLength="10.12" lengthAdjust="spacingAndGlyphs" fill="#1c1c1c">30</text>
<text x="573.11" y="151.60" font-size="8.42" textLength="20.97" lengthAdjust="spacingAndGlyphs" fill="#1c1c1c">Years</text>
<text x="490.50" y="9.50" font-size="10.23" textLength="12.84" lengthAdjust="spacingAndGlyphs" fill="#1c1c1c">(c)</text>
<text x="506.60" y="9.50" font-size="10.23" textLength="152.75" lengthAdjust="spacingAndGlyphs" font-weight="bold" fill="#000">G1 Annual Temperature [°C]</text>
<rect x="606.50" y="51.20" width="66.00" height="39.30" rx="2" ry="2" fill="#ffffff" fill-opacity="0.92" stroke="#d6d6d6" stroke-width="0.8"/>
<line x1="609.00" y1="57.90" x2="627.80" y2="57.90" stroke="#F7A600" stroke-width="2.7" />
<text x="633.20" y="60.90" font-size="8.42" textLength="35.99" lengthAdjust="spacingAndGlyphs" fill="#1c1c1c">piControl</text>
<line x1="609.00" y1="70.10" x2="627.80" y2="70.10" stroke="#C8005A" stroke-width="2.7" />
<text x="633.20" y="73.10" font-size="8.42" textLength="26.63" lengthAdjust="spacingAndGlyphs" fill="#1c1c1c">4xCO2</text>
<line x1="609.00" y1="82.30" x2="627.80" y2="82.30" stroke="#0C73EB" stroke-width="2.7" />
<text x="633.20" y="85.30" font-size="8.42" textLength="23.79" lengthAdjust="spacingAndGlyphs" fill="#1c1c1c">G1ext</text>
<text x="565.40" y="102.70" font-size="8.42" textLength="25.15" lengthAdjust="spacingAndGlyphs" font-weight="bold" fill="#C8005A">0.000</text>
<text x="565.40" y="109.60" font-size="8.42" textLength="22.76" lengthAdjust="spacingAndGlyphs" fill="#0C73EB">0.891</text>
<text x="621.30" y="102.70" font-size="8.42" textLength="25.15" lengthAdjust="spacingAndGlyphs" font-weight="bold" fill="#C8005A">0.000</text>
<text x="621.30" y="109.60" font-size="8.42" textLength="22.76" lengthAdjust="spacingAndGlyphs" fill="#0C73EB">0.981</text>
<line x1="16.50" y1="185.30" x2="16.50" y2="298.90" stroke="#e6e6e6" stroke-width="0.8" />
<line x1="16.50" y1="298.90" x2="16.50" y2="302.40" stroke="#474747" stroke-width="0.9" />
<text x="15.33" y="311.20" font-size="8.42" textLength="2.34" lengthAdjust="spacingAndGlyphs" fill="#1c1c1c">J</text>
<line x1="33.49" y1="185.30" x2="33.49" y2="298.90" stroke="#e6e6e6" stroke-width="0.8" />
<line x1="33.49" y1="298.90" x2="33.49" y2="302.40" stroke="#474747" stroke-width="0.9" />
<text x="31.20" y="311.20" font-size="8.42" textLength="4.57" lengthAdjust="spacingAndGlyphs" fill="#1c1c1c">F</text>
<line x1="50.48" y1="185.30" x2="50.48" y2="298.90" stroke="#e6e6e6" stroke-width="0.8" />
<line x1="50.48" y1="298.90" x2="50.48" y2="302.40" stroke="#474747" stroke-width="0.9" />
<text x="47.05" y="311.20" font-size="8.42" textLength="6.86" lengthAdjust="spacingAndGlyphs" fill="#1c1c1c">M</text>
<line x1="67.47" y1="185.30" x2="67.47" y2="298.90" stroke="#e6e6e6" stroke-width="0.8" />
<line x1="67.47" y1="298.90" x2="67.47" y2="302.40" stroke="#474747" stroke-width="0.9" />
<text x="64.75" y="311.20" font-size="8.42" textLength="5.44" lengthAdjust="spacingAndGlyphs" fill="#1c1c1c">A</text>
<line x1="84.46" y1="185.30" x2="84.46" y2="298.90" stroke="#e6e6e6" stroke-width="0.8" />
<line x1="84.46" y1="298.90" x2="84.46" y2="302.40" stroke="#474747" stroke-width="0.9" />
<text x="81.03" y="311.20" font-size="8.42" textLength="6.86" lengthAdjust="spacingAndGlyphs" fill="#1c1c1c">M</text>
<line x1="101.45" y1="185.30" x2="101.45" y2="298.90" stroke="#e6e6e6" stroke-width="0.8" />
<line x1="101.45" y1="298.90" x2="101.45" y2="302.40" stroke="#474747" stroke-width="0.9" />
<text x="100.28" y="311.20" font-size="8.42" textLength="2.34" lengthAdjust="spacingAndGlyphs" fill="#1c1c1c">J</text>
<line x1="118.45" y1="185.30" x2="118.45" y2="298.90" stroke="#e6e6e6" stroke-width="0.8" />
<line x1="118.45" y1="298.90" x2="118.45" y2="302.40" stroke="#474747" stroke-width="0.9" />
<text x="117.27" y="311.20" font-size="8.42" textLength="2.34" lengthAdjust="spacingAndGlyphs" fill="#1c1c1c">J</text>
<line x1="135.44" y1="185.30" x2="135.44" y2="298.90" stroke="#e6e6e6" stroke-width="0.8" />
<line x1="135.44" y1="298.90" x2="135.44" y2="302.40" stroke="#474747" stroke-width="0.9" />
<text x="132.72" y="311.20" font-size="8.42" textLength="5.44" lengthAdjust="spacingAndGlyphs" fill="#1c1c1c">A</text>
<line x1="152.43" y1="185.30" x2="152.43" y2="298.90" stroke="#e6e6e6" stroke-width="0.8" />
<line x1="152.43" y1="298.90" x2="152.43" y2="302.40" stroke="#474747" stroke-width="0.9" />
<text x="149.90" y="311.20" font-size="8.42" textLength="5.05" lengthAdjust="spacingAndGlyphs" fill="#1c1c1c">S</text>
<line x1="169.42" y1="185.30" x2="169.42" y2="298.90" stroke="#e6e6e6" stroke-width="0.8" />
<line x1="169.42" y1="298.90" x2="169.42" y2="302.40" stroke="#474747" stroke-width="0.9" />
<text x="166.29" y="311.20" font-size="8.42" textLength="6.26" lengthAdjust="spacingAndGlyphs" fill="#1c1c1c">O</text>
<line x1="186.41" y1="185.30" x2="186.41" y2="298.90" stroke="#e6e6e6" stroke-width="0.8" />
<line x1="186.41" y1="298.90" x2="186.41" y2="302.40" stroke="#474747" stroke-width="0.9" />
<text x="183.44" y="311.20" font-size="8.42" textLength="5.95" lengthAdjust="spacingAndGlyphs" fill="#1c1c1c">N</text>
<line x1="203.40" y1="185.30" x2="203.40" y2="298.90" stroke="#e6e6e6" stroke-width="0.8" />
<line x1="203.40" y1="298.90" x2="203.40" y2="302.40" stroke="#474747" stroke-width="0.9" />
<text x="200.34" y="311.20" font-size="8.42" textLength="6.12" lengthAdjust="spacingAndGlyphs" fill="#1c1c1c">D</text>
<line x1="16.50" y1="298.90" x2="203.40" y2="298.90" stroke="#e6e6e6" stroke-width="0.8" />
<line x1="13.60" y1="298.90" x2="16.50" y2="298.90" stroke="#474747" stroke-width="0.9" />
<text x="0.68" y="301.90" font-size="8.42" textLength="10.12" lengthAdjust="spacingAndGlyphs" fill="#1c1c1c">20</text>
<line x1="16.50" y1="276.18" x2="203.40" y2="276.18" stroke="#e6e6e6" stroke-width="0.8" />
<line x1="13.60" y1="276.18" x2="16.50" y2="276.18" stroke="#474747" stroke-width="0.9" />
<text x="0.68" y="279.18" font-size="8.42" textLength="10.12" lengthAdjust="spacingAndGlyphs" fill="#1c1c1c">22</text>
<line x1="16.50" y1="253.46" x2="203.40" y2="253.46" stroke="#e6e6e6" stroke-width="0.8" />
<line x1="13.60" y1="253.46" x2="16.50" y2="253.46" stroke="#474747" stroke-width="0.9" />
<text x="0.68" y="256.46" font-size="8.42" textLength="10.12" lengthAdjust="spacingAndGlyphs" fill="#1c1c1c">24</text>
<line x1="16.50" y1="230.74" x2="203.40" y2="230.74" stroke="#e6e6e6" stroke-width="0.8" />
<line x1="13.60" y1="230.74" x2="16.50" y2="230.74" stroke="#474747" stroke-width="0.9" />
<text x="0.68" y="233.74" font-size="8.42" textLength="10.12" lengthAdjust="spacingAndGlyphs" fill="#1c1c1c">26</text>
<line x1="16.50" y1="208.02" x2="203.40" y2="208.02" stroke="#e6e6e6" stroke-width="0.8" />
<line x1="13.60" y1="208.02" x2="16.50" y2="208.02" stroke="#474747" stroke-width="0.9" />
<text x="0.68" y="211.02" font-size="8.42" textLength="10.12" lengthAdjust="spacingAndGlyphs" fill="#1c1c1c">28</text>
<line x1="16.50" y1="185.30" x2="203.40" y2="185.30" stroke="#e6e6e6" stroke-width="0.8" />
<line x1="13.60" y1="185.30" x2="16.50" y2="185.30" stroke="#474747" stroke-width="0.9" />
<text x="0.68" y="188.30" font-size="8.42" textLength="10.12" lengthAdjust="spacingAndGlyphs" fill="#1c1c1c">30</text>
<clipPath id="cd"><rect x="16.5" y="185.3" width="186.9" height="113.59999999999997"/></clipPath>
<g clip-path="url(#cd)">
<polygon points="16.50,281.63 33.49,269.36 50.48,248.35 67.47,228.58 84.46,226.08 101.45,231.42 118.45,242.33 135.44,250.28 152.43,258.91 169.42,267.32 186.41,275.50 203.40,283.56 203.40,289.81 186.41,280.04 169.42,270.73 152.43,261.41 135.44,252.55 118.45,245.05 101.45,240.85 84.46,238.12 67.47,245.51 50.48,261.98 33.49,278.45 16.50,290.95" fill="#a8a8a8" stroke="#7a7a7a" stroke-width="0.5"/>
<polyline points="16.50,251.19 33.49,244.94 50.48,230.06 67.47,218.24 84.46,218.24 101.45,223.58 118.45,232.90 135.44,237.78 152.43,236.76 169.42,237.67 186.41,242.44 203.40,249.26" fill="none" stroke="#F7A600" stroke-width="2.7" stroke-linejoin="round" stroke-linecap="butt" />
<polyline points="16.50,286.63 33.49,273.91 50.48,254.94 67.47,237.44 84.46,232.10 101.45,236.08 118.45,243.69 135.44,251.30 152.43,260.16 169.42,269.02 186.41,277.77 203.40,286.97" fill="none" stroke="#000000" stroke-width="2.7" stroke-linejoin="round" stroke-linecap="butt" />
<circle cx="16.50" cy="286.63" r="2.7" fill="#000"/>
<circle cx="33.49" cy="273.91" r="2.7" fill="#000"/>
<circle cx="50.48" cy="254.94" r="2.7" fill="#000"/>
<circle cx="67.47" cy="237.44" r="2.7" fill="#000"/>
<circle cx="84.46" cy="232.10" r="2.7" fill="#000"/>
<circle cx="101.45" cy="236.08" r="2.7" fill="#000"/>
<circle cx="118.45" cy="243.69" r="2.7" fill="#000"/>
<circle cx="135.44" cy="251.30" r="2.7" fill="#000"/>
<circle cx="152.43" cy="260.16" r="2.7" fill="#000"/>
<circle cx="169.42" cy="269.02" r="2.7" fill="#000"/>
<circle cx="186.41" cy="277.77" r="2.7" fill="#000"/>
<circle cx="203.40" cy="286.97" r="2.7" fill="#000"/>
</g>
<rect x="16.5" y="185.3" width="186.90" height="113.60" fill="none" stroke="#474747" stroke-width="0.9"/>
<text x="95.42" y="322.70" font-size="8.42" textLength="29.06" lengthAdjust="spacingAndGlyphs" fill="#1c1c1c">Months</text>
<text x="16.70" y="180.60" font-size="10.23" textLength="13.66" lengthAdjust="spacingAndGlyphs" fill="#1c1c1c">(d)</text>
<text x="59.73" y="180.90" font-size="10.23" textLength="100.44" lengthAdjust="spacingAndGlyphs" font-weight="bold" fill="#000">Monthly Temp [°C]</text>
<rect x="76.50" y="267.90" width="67.20" height="26.40" rx="2" ry="2" fill="#ffffff" fill-opacity="0.92" stroke="#d6d6d6" stroke-width="0.8"/>
<line x1="78.20" y1="274.70" x2="97.00" y2="274.70" stroke="#000" stroke-width="2.7" />
<circle cx="87.6" cy="274.7" r="2.7" fill="#000"/>
<text x="102.80" y="277.70" font-size="8.42" textLength="37.24" lengthAdjust="spacingAndGlyphs" fill="#1c1c1c">Historical</text>
<line x1="78.20" y1="286.90" x2="97.00" y2="286.90" stroke="#F7A600" stroke-width="2.7" />
<text x="102.80" y="289.90" font-size="8.42" textLength="35.46" lengthAdjust="spacingAndGlyphs" fill="#1c1c1c">SSP2-4.5</text>
<line x1="253.50" y1="185.30" x2="253.50" y2="298.90" stroke="#e6e6e6" stroke-width="0.8" />
<line x1="253.50" y1="298.90" x2="253.50" y2="302.40" stroke="#474747" stroke-width="0.9" />
<text x="252.33" y="311.20" font-size="8.42" textLength="2.34" lengthAdjust="spacingAndGlyphs" fill="#1c1c1c">J</text>
<line x1="270.48" y1="185.30" x2="270.48" y2="298.90" stroke="#e6e6e6" stroke-width="0.8" />
<line x1="270.48" y1="298.90" x2="270.48" y2="302.40" stroke="#474747" stroke-width="0.9" />
<text x="268.20" y="311.20" font-size="8.42" textLength="4.57" lengthAdjust="spacingAndGlyphs" fill="#1c1c1c">F</text>
<line x1="287.46" y1="185.30" x2="287.46" y2="298.90" stroke="#e6e6e6" stroke-width="0.8" />
<line x1="287.46" y1="298.90" x2="287.46" y2="302.40" stroke="#474747" stroke-width="0.9" />
<text x="284.03" y="311.20" font-size="8.42" textLength="6.86" lengthAdjust="spacingAndGlyphs" fill="#1c1c1c">M</text>
<line x1="304.45" y1="185.30" x2="304.45" y2="298.90" stroke="#e6e6e6" stroke-width="0.8" />
<line x1="304.45" y1="298.90" x2="304.45" y2="302.40" stroke="#474747" stroke-width="0.9" />
<text x="301.73" y="311.20" font-size="8.42" textLength="5.44" lengthAdjust="spacingAndGlyphs" fill="#1c1c1c">A</text>
<line x1="321.43" y1="185.30" x2="321.43" y2="298.90" stroke="#e6e6e6" stroke-width="0.8" />
<line x1="321.43" y1="298.90" x2="321.43" y2="302.40" stroke="#474747" stroke-width="0.9" />
<text x="318.00" y="311.20" font-size="8.42" textLength="6.86" lengthAdjust="spacingAndGlyphs" fill="#1c1c1c">M</text>
<line x1="338.41" y1="185.30" x2="338.41" y2="298.90" stroke="#e6e6e6" stroke-width="0.8" />
<line x1="338.41" y1="298.90" x2="338.41" y2="302.40" stroke="#474747" stroke-width="0.9" />
<text x="337.24" y="311.20" font-size="8.42" textLength="2.34" lengthAdjust="spacingAndGlyphs" fill="#1c1c1c">J</text>
<line x1="355.39" y1="185.30" x2="355.39" y2="298.90" stroke="#e6e6e6" stroke-width="0.8" />
<line x1="355.39" y1="298.90" x2="355.39" y2="302.40" stroke="#474747" stroke-width="0.9" />
<text x="354.22" y="311.20" font-size="8.42" textLength="2.34" lengthAdjust="spacingAndGlyphs" fill="#1c1c1c">J</text>
<line x1="372.37" y1="185.30" x2="372.37" y2="298.90" stroke="#e6e6e6" stroke-width="0.8" />
<line x1="372.37" y1="298.90" x2="372.37" y2="302.40" stroke="#474747" stroke-width="0.9" />
<text x="369.65" y="311.20" font-size="8.42" textLength="5.44" lengthAdjust="spacingAndGlyphs" fill="#1c1c1c">A</text>
<line x1="389.35" y1="185.30" x2="389.35" y2="298.90" stroke="#e6e6e6" stroke-width="0.8" />
<line x1="389.35" y1="298.90" x2="389.35" y2="302.40" stroke="#474747" stroke-width="0.9" />
<text x="386.83" y="311.20" font-size="8.42" textLength="5.05" lengthAdjust="spacingAndGlyphs" fill="#1c1c1c">S</text>
<line x1="406.34" y1="185.30" x2="406.34" y2="298.90" stroke="#e6e6e6" stroke-width="0.8" />
<line x1="406.34" y1="298.90" x2="406.34" y2="302.40" stroke="#474747" stroke-width="0.9" />
<text x="403.21" y="311.20" font-size="8.42" textLength="6.26" lengthAdjust="spacingAndGlyphs" fill="#1c1c1c">O</text>
<line x1="423.32" y1="185.30" x2="423.32" y2="298.90" stroke="#e6e6e6" stroke-width="0.8" />
<line x1="423.32" y1="298.90" x2="423.32" y2="302.40" stroke="#474747" stroke-width="0.9" />
<text x="420.34" y="311.20" font-size="8.42" textLength="5.95" lengthAdjust="spacingAndGlyphs" fill="#1c1c1c">N</text>
<line x1="440.30" y1="185.30" x2="440.30" y2="298.90" stroke="#e6e6e6" stroke-width="0.8" />
<line x1="440.30" y1="298.90" x2="440.30" y2="302.40" stroke="#474747" stroke-width="0.9" />
<text x="437.24" y="311.20" font-size="8.42" textLength="6.12" lengthAdjust="spacingAndGlyphs" fill="#1c1c1c">D</text>
<line x1="253.50" y1="298.90" x2="440.30" y2="298.90" stroke="#e6e6e6" stroke-width="0.8" />
<line x1="250.60" y1="298.90" x2="253.50" y2="298.90" stroke="#474747" stroke-width="0.9" />
<text x="236.08" y="301.90" font-size="8.42" textLength="11.72" lengthAdjust="spacingAndGlyphs" fill="#1c1c1c">−3</text>
<line x1="253.50" y1="279.97" x2="440.30" y2="279.97" stroke="#e6e6e6" stroke-width="0.8" />
<line x1="250.60" y1="279.97" x2="253.50" y2="279.97" stroke="#474747" stroke-width="0.9" />
<text x="236.08" y="282.97" font-size="8.42" textLength="11.72" lengthAdjust="spacingAndGlyphs" fill="#1c1c1c">−2</text>
<line x1="253.50" y1="261.03" x2="440.30" y2="261.03" stroke="#e6e6e6" stroke-width="0.8" />
<line x1="250.60" y1="261.03" x2="253.50" y2="261.03" stroke="#474747" stroke-width="0.9" />
<text x="236.08" y="264.03" font-size="8.42" textLength="11.72" lengthAdjust="spacingAndGlyphs" fill="#1c1c1c">−1</text>
<line x1="253.50" y1="242.10" x2="440.30" y2="242.10" stroke="#e6e6e6" stroke-width="0.8" />
<line x1="250.60" y1="242.10" x2="253.50" y2="242.10" stroke="#474747" stroke-width="0.9" />
<text x="242.74" y="245.10" font-size="8.42" textLength="5.06" lengthAdjust="spacingAndGlyphs" fill="#1c1c1c">0</text>
<line x1="253.50" y1="223.17" x2="440.30" y2="223.17" stroke="#e6e6e6" stroke-width="0.8" />
<line x1="250.60" y1="223.17" x2="253.50" y2="223.17" stroke="#474747" stroke-width="0.9" />
<text x="242.74" y="226.17" font-size="8.42" textLength="5.06" lengthAdjust="spacingAndGlyphs" fill="#1c1c1c">1</text>
<line x1="253.50" y1="204.23" x2="440.30" y2="204.23" stroke="#e6e6e6" stroke-width="0.8" />
<line x1="250.60" y1="204.23" x2="253.50" y2="204.23" stroke="#474747" stroke-width="0.9" />
<text x="242.74" y="207.23" font-size="8.42" textLength="5.06" lengthAdjust="spacingAndGlyphs" fill="#1c1c1c">2</text>
<line x1="253.50" y1="185.30" x2="440.30" y2="185.30" stroke="#e6e6e6" stroke-width="0.8" />
<line x1="250.60" y1="185.30" x2="253.50" y2="185.30" stroke="#474747" stroke-width="0.9" />
<text x="242.74" y="188.30" font-size="8.42" textLength="5.06" lengthAdjust="spacingAndGlyphs" fill="#1c1c1c">3</text>
<line x1="440.30" y1="298.90" x2="443.80" y2="298.90" stroke="#474747" stroke-width="0.9" />
<text x="446.50" y="301.90" font-size="8.42" textLength="12.64" lengthAdjust="spacingAndGlyphs" fill="#1c1c1c">0.0</text>
<line x1="440.30" y1="276.18" x2="443.80" y2="276.18" stroke="#474747" stroke-width="0.9" />
<text x="446.50" y="279.18" font-size="8.42" textLength="12.64" lengthAdjust="spacingAndGlyphs" fill="#1c1c1c">0.2</text>
<line x1="440.30" y1="253.46" x2="443.80" y2="253.46" stroke="#474747" stroke-width="0.9" />
<text x="446.50" y="256.46" font-size="8.42" textLength="12.64" lengthAdjust="spacingAndGlyphs" fill="#1c1c1c">0.4</text>
<line x1="440.30" y1="230.74" x2="443.80" y2="230.74" stroke="#474747" stroke-width="0.9" />
<text x="446.50" y="233.74" font-size="8.42" textLength="12.64" lengthAdjust="spacingAndGlyphs" fill="#1c1c1c">0.6</text>
<line x1="440.30" y1="208.02" x2="443.80" y2="208.02" stroke="#474747" stroke-width="0.9" />
<text x="446.50" y="211.02" font-size="8.42" textLength="12.64" lengthAdjust="spacingAndGlyphs" fill="#1c1c1c">0.8</text>
<line x1="440.30" y1="185.30" x2="443.80" y2="185.30" stroke="#474747" stroke-width="0.9" />
<text x="446.50" y="188.30" font-size="8.42" textLength="12.64" lengthAdjust="spacingAndGlyphs" fill="#1c1c1c">1.0</text>
<clipPath id="ce"><rect x="253.5" y="185.3" width="186.8" height="113.59999999999997"/></clipPath>
<g clip-path="url(#ce)">
<polyline points="253.50,207.64 270.48,207.07 287.46,207.07 304.45,207.07 321.43,207.07 338.41,207.07 355.39,205.94 372.37,206.51 389.35,205.37 406.34,204.42 423.32,204.61 440.30,205.37" fill="none" stroke="#C8005A" stroke-width="2.7" stroke-linejoin="round" stroke-linecap="butt" />
<rect x="250.20" y="204.34" width="6.6" height="6.6" fill="#C8005A"/>
<rect x="267.18" y="203.77" width="6.6" height="6.6" fill="#C8005A"/>
<rect x="284.16" y="203.77" width="6.6" height="6.6" fill="#C8005A"/>
<rect x="301.15" y="203.77" width="6.6" height="6.6" fill="#C8005A"/>
<rect x="318.13" y="203.77" width="6.6" height="6.6" fill="#C8005A"/>
<rect x="335.11" y="203.77" width="6.6" height="6.6" fill="#C8005A"/>
<rect x="352.09" y="202.64" width="6.6" height="6.6" fill="#C8005A"/>
<rect x="369.07" y="203.21" width="6.6" height="6.6" fill="#C8005A"/>
<rect x="386.05" y="202.07" width="6.6" height="6.6" fill="#C8005A"/>
<rect x="403.04" y="201.12" width="6.6" height="6.6" fill="#C8005A"/>
<rect x="420.02" y="201.31" width="6.6" height="6.6" fill="#C8005A"/>
<rect x="437.00" y="202.07" width="6.6" height="6.6" fill="#C8005A"/>
<polyline points="253.50,250.43 270.48,248.92 287.46,246.64 304.45,242.67 321.43,239.64 338.41,237.37 355.39,236.99 372.37,236.99 389.35,240.02 406.34,242.48 423.32,247.02 440.30,251.19" fill="none" stroke="#0C73EB" stroke-width="2.7" stroke-linejoin="round" stroke-linecap="butt" />
<rect x="250.20" y="247.13" width="6.6" height="6.6" fill="#0C73EB"/>
<rect x="267.18" y="245.62" width="6.6" height="6.6" fill="#0C73EB"/>
<rect x="284.16" y="243.34" width="6.6" height="6.6" fill="#0C73EB"/>
<path d="M302.15,240.37L306.75,244.97M302.15,244.97L306.75,240.37" stroke="#0C73EB" stroke-width="1.3" fill="none"/>
<path d="M319.13,237.34L323.73,241.94M319.13,241.94L323.73,237.34" stroke="#0C73EB" stroke-width="1.3" fill="none"/>
<rect x="335.11" y="234.07" width="6.6" height="6.6" fill="#0C73EB"/>
<rect x="352.09" y="233.69" width="6.6" height="6.6" fill="#0C73EB"/>
<rect x="369.07" y="233.69" width="6.6" height="6.6" fill="#0C73EB"/>
<path d="M387.05,237.72L391.65,242.32M387.05,242.32L391.65,237.72" stroke="#0C73EB" stroke-width="1.3" fill="none"/>
<path d="M404.04,240.18L408.64,244.78M404.04,244.78L408.64,240.18" stroke="#0C73EB" stroke-width="1.3" fill="none"/>
<path d="M421.02,244.72L425.62,249.32M421.02,249.32L425.62,244.72" stroke="#0C73EB" stroke-width="1.3" fill="none"/>
<rect x="437.00" y="247.89" width="6.6" height="6.6" fill="#0C73EB"/>
<polyline points="253.50,254.41 270.48,251.19 287.46,248.16 304.45,242.67 321.43,239.64 338.41,238.88 355.39,236.99 372.37,236.99 389.35,240.02 406.34,242.48 423.32,247.40 440.30,253.46" fill="none" stroke="#033B79" stroke-width="2.7" stroke-linejoin="round" stroke-linecap="butt" />
<rect x="250.20" y="251.11" width="6.6" height="6.6" fill="#033B79"/>
<rect x="267.18" y="247.89" width="6.6" height="6.6" fill="#033B79"/>
<rect x="284.16" y="244.86" width="6.6" height="6.6" fill="#033B79"/>
<path d="M302.15,240.37L306.75,244.97M302.15,244.97L306.75,240.37" stroke="#033B79" stroke-width="1.3" fill="none"/>
<path d="M319.13,237.34L323.73,241.94M319.13,241.94L323.73,237.34" stroke="#033B79" stroke-width="1.3" fill="none"/>
<rect x="335.11" y="235.58" width="6.6" height="6.6" fill="#033B79"/>
<rect x="352.09" y="233.69" width="6.6" height="6.6" fill="#033B79"/>
<rect x="369.07" y="233.69" width="6.6" height="6.6" fill="#033B79"/>
<path d="M387.05,237.72L391.65,242.32M387.05,242.32L391.65,237.72" stroke="#033B79" stroke-width="1.3" fill="none"/>
<path d="M404.04,240.18L408.64,244.78M404.04,244.78L408.64,240.18" stroke="#033B79" stroke-width="1.3" fill="none"/>
<path d="M421.02,245.10L425.62,249.70M421.02,249.70L425.62,245.10" stroke="#033B79" stroke-width="1.3" fill="none"/>
<rect x="437.00" y="250.16" width="6.6" height="6.6" fill="#033B79"/>
</g>
<rect x="253.5" y="185.3" width="186.80" height="113.60" fill="none" stroke="#474747" stroke-width="0.9"/>
<text x="332.37" y="322.70" font-size="8.42" textLength="29.06" lengthAdjust="spacingAndGlyphs" fill="#1c1c1c">Months</text>
<text x="253.60" y="180.60" font-size="10.23" textLength="13.47" lengthAdjust="spacingAndGlyphs" fill="#1c1c1c">(e)</text>
<text x="315.04" y="180.90" font-size="10.23" textLength="63.72" lengthAdjust="spacingAndGlyphs" font-weight="bold" fill="#000">Δ Temp [°C]</text>
<line x1="259.60" y1="262.30" x2="278.30" y2="262.30" stroke="#C8005A" stroke-width="2.7" />
<text x="283.80" y="265.30" font-size="8.42" textLength="78.84" lengthAdjust="spacingAndGlyphs" fill="#1c1c1c">SSP5-8.5 - SSP2-4.5</text>
<line x1="259.60" y1="274.50" x2="278.30" y2="274.50" stroke="#0C73EB" stroke-width="2.7" />
<text x="283.80" y="277.50" font-size="8.42" textLength="73.95" lengthAdjust="spacingAndGlyphs" fill="#1c1c1c">G6solar - SSP2-4.5</text>
<line x1="259.60" y1="286.70" x2="278.30" y2="286.70" stroke="#033B79" stroke-width="2.7" />
<text x="283.80" y="289.70" font-size="8.42" textLength="77.09" lengthAdjust="spacingAndGlyphs" fill="#1c1c1c">G6sulfur - SSP2-4.5</text>
<rect x="366.50" y="272.60" width="5.2" height="5.2" fill="#000"/>
<path d="M366.90,285.30L371.30,289.70M366.90,289.70L371.30,285.30" stroke="#000" stroke-width="1.0" fill="none"/>
<text x="383.70" y="277.90" font-size="8.42" textLength="41.05" lengthAdjust="spacingAndGlyphs" fill="#1c1c1c">significant</text>
<text x="383.70" y="290.10" font-size="8.42" textLength="48.30" lengthAdjust="spacingAndGlyphs" fill="#1c1c1c">insignificant</text>
<line x1="490.40" y1="185.30" x2="490.40" y2="298.90" stroke="#e6e6e6" stroke-width="0.8" />
<line x1="490.40" y1="298.90" x2="490.40" y2="302.40" stroke="#474747" stroke-width="0.9" />
<text x="489.23" y="311.20" font-size="8.42" textLength="2.34" lengthAdjust="spacingAndGlyphs" fill="#1c1c1c">J</text>
<line x1="507.35" y1="185.30" x2="507.35" y2="298.90" stroke="#e6e6e6" stroke-width="0.8" />
<line x1="507.35" y1="298.90" x2="507.35" y2="302.40" stroke="#474747" stroke-width="0.9" />
<text x="505.06" y="311.20" font-size="8.42" textLength="4.57" lengthAdjust="spacingAndGlyphs" fill="#1c1c1c">F</text>
<line x1="524.29" y1="185.30" x2="524.29" y2="298.90" stroke="#e6e6e6" stroke-width="0.8" />
<line x1="524.29" y1="298.90" x2="524.29" y2="302.40" stroke="#474747" stroke-width="0.9" />
<text x="520.86" y="311.20" font-size="8.42" textLength="6.86" lengthAdjust="spacingAndGlyphs" fill="#1c1c1c">M</text>
<line x1="541.24" y1="185.30" x2="541.24" y2="298.90" stroke="#e6e6e6" stroke-width="0.8" />
<line x1="541.24" y1="298.90" x2="541.24" y2="302.40" stroke="#474747" stroke-width="0.9" />
<text x="538.52" y="311.20" font-size="8.42" textLength="5.44" lengthAdjust="spacingAndGlyphs" fill="#1c1c1c">A</text>
<line x1="558.18" y1="185.30" x2="558.18" y2="298.90" stroke="#e6e6e6" stroke-width="0.8" />
<line x1="558.18" y1="298.90" x2="558.18" y2="302.40" stroke="#474747" stroke-width="0.9" />
<text x="554.75" y="311.20" font-size="8.42" textLength="6.86" lengthAdjust="spacingAndGlyphs" fill="#1c1c1c">M</text>
<line x1="575.13" y1="185.30" x2="575.13" y2="298.90" stroke="#e6e6e6" stroke-width="0.8" />
<line x1="575.13" y1="298.90" x2="575.13" y2="302.40" stroke="#474747" stroke-width="0.9" />
<text x="573.95" y="311.20" font-size="8.42" textLength="2.34" lengthAdjust="spacingAndGlyphs" fill="#1c1c1c">J</text>
<line x1="592.07" y1="185.30" x2="592.07" y2="298.90" stroke="#e6e6e6" stroke-width="0.8" />
<line x1="592.07" y1="298.90" x2="592.07" y2="302.40" stroke="#474747" stroke-width="0.9" />
<text x="590.90" y="311.20" font-size="8.42" textLength="2.34" lengthAdjust="spacingAndGlyphs" fill="#1c1c1c">J</text>
<line x1="609.02" y1="185.30" x2="609.02" y2="298.90" stroke="#e6e6e6" stroke-width="0.8" />
<line x1="609.02" y1="298.90" x2="609.02" y2="302.40" stroke="#474747" stroke-width="0.9" />
<text x="606.30" y="311.20" font-size="8.42" textLength="5.44" lengthAdjust="spacingAndGlyphs" fill="#1c1c1c">A</text>
<line x1="625.96" y1="185.30" x2="625.96" y2="298.90" stroke="#e6e6e6" stroke-width="0.8" />
<line x1="625.96" y1="298.90" x2="625.96" y2="302.40" stroke="#474747" stroke-width="0.9" />
<text x="623.44" y="311.20" font-size="8.42" textLength="5.05" lengthAdjust="spacingAndGlyphs" fill="#1c1c1c">S</text>
<line x1="642.91" y1="185.30" x2="642.91" y2="298.90" stroke="#e6e6e6" stroke-width="0.8" />
<line x1="642.91" y1="298.90" x2="642.91" y2="302.40" stroke="#474747" stroke-width="0.9" />
<text x="639.78" y="311.20" font-size="8.42" textLength="6.26" lengthAdjust="spacingAndGlyphs" fill="#1c1c1c">O</text>
<line x1="659.85" y1="185.30" x2="659.85" y2="298.90" stroke="#e6e6e6" stroke-width="0.8" />
<line x1="659.85" y1="298.90" x2="659.85" y2="302.40" stroke="#474747" stroke-width="0.9" />
<text x="656.88" y="311.20" font-size="8.42" textLength="5.95" lengthAdjust="spacingAndGlyphs" fill="#1c1c1c">N</text>
<line x1="676.80" y1="185.30" x2="676.80" y2="298.90" stroke="#e6e6e6" stroke-width="0.8" />
<line x1="676.80" y1="298.90" x2="676.80" y2="302.40" stroke="#474747" stroke-width="0.9" />
<text x="673.74" y="311.20" font-size="8.42" textLength="6.12" lengthAdjust="spacingAndGlyphs" fill="#1c1c1c">D</text>
<line x1="490.40" y1="298.90" x2="676.80" y2="298.90" stroke="#e6e6e6" stroke-width="0.8" />
<line x1="487.50" y1="298.90" x2="490.40" y2="298.90" stroke="#474747" stroke-width="0.9" />
<text x="467.92" y="301.90" font-size="8.42" textLength="16.78" lengthAdjust="spacingAndGlyphs" fill="#1c1c1c">−10</text>
<line x1="490.40" y1="270.50" x2="676.80" y2="270.50" stroke="#e6e6e6" stroke-width="0.8" />
<line x1="487.50" y1="270.50" x2="490.40" y2="270.50" stroke="#474747" stroke-width="0.9" />
<text x="472.98" y="273.50" font-size="8.42" textLength="11.72" lengthAdjust="spacingAndGlyphs" fill="#1c1c1c">−5</text>
<line x1="490.40" y1="242.10" x2="676.80" y2="242.10" stroke="#e6e6e6" stroke-width="0.8" />
<line x1="487.50" y1="242.10" x2="490.40" y2="242.10" stroke="#474747" stroke-width="0.9" />
<text x="479.64" y="245.10" font-size="8.42" textLength="5.06" lengthAdjust="spacingAndGlyphs" fill="#1c1c1c">0</text>
<line x1="490.40" y1="213.70" x2="676.80" y2="213.70" stroke="#e6e6e6" stroke-width="0.8" />
<line x1="487.50" y1="213.70" x2="490.40" y2="213.70" stroke="#474747" stroke-width="0.9" />
<text x="479.64" y="216.70" font-size="8.42" textLength="5.06" lengthAdjust="spacingAndGlyphs" fill="#1c1c1c">5</text>
<line x1="490.40" y1="185.30" x2="676.80" y2="185.30" stroke="#e6e6e6" stroke-width="0.8" />
<line x1="487.50" y1="185.30" x2="490.40" y2="185.30" stroke="#474747" stroke-width="0.9" />
<text x="474.58" y="188.30" font-size="8.42" textLength="10.12" lengthAdjust="spacingAndGlyphs" fill="#1c1c1c">10</text>
<clipPath id="cf"><rect x="490.4" y="185.3" width="186.39999999999998" height="113.59999999999997"/></clipPath>
<g clip-path="url(#cf)">
<polyline points="490.40,209.72 507.35,210.52 524.29,209.72 541.24,208.47 558.18,208.19 575.13,209.27 592.07,209.72 609.02,209.72 625.96,208.47 642.91,208.19 659.85,208.47 676.80,209.61" fill="none" stroke="#C8005A" stroke-width="2.7" stroke-linejoin="round" stroke-linecap="butt" />
<rect x="487.10" y="206.42" width="6.6" height="6.6" fill="#C8005A"/>
<rect x="504.05" y="207.22" width="6.6" height="6.6" fill="#C8005A"/>
<rect x="520.99" y="206.42" width="6.6" height="6.6" fill="#C8005A"/>
<rect x="537.94" y="205.17" width="6.6" height="6.6" fill="#C8005A"/>
<rect x="554.88" y="204.89" width="6.6" height="6.6" fill="#C8005A"/>
<rect x="571.83" y="205.97" width="6.6" height="6.6" fill="#C8005A"/>
<rect x="588.77" y="206.42" width="6.6" height="6.6" fill="#C8005A"/>
<rect x="605.72" y="206.42" width="6.6" height="6.6" fill="#C8005A"/>
<rect x="622.66" y="205.17" width="6.6" height="6.6" fill="#C8005A"/>
<rect x="639.61" y="204.89" width="6.6" height="6.6" fill="#C8005A"/>
<rect x="656.55" y="205.17" width="6.6" height="6.6" fill="#C8005A"/>
<rect x="673.50" y="206.31" width="6.6" height="6.6" fill="#C8005A"/>
<polyline points="490.40,236.59 507.35,236.31 524.29,237.50 541.24,236.99 558.18,236.59 575.13,236.59 592.07,236.99 609.02,236.99 625.96,236.99 642.91,236.70 659.85,236.59 676.80,240.96" fill="none" stroke="#0C73EB" stroke-width="2.7" stroke-linejoin="round" stroke-linecap="butt" />
<rect x="487.10" y="233.29" width="6.6" height="6.6" fill="#0C73EB"/>
<rect x="504.05" y="233.01" width="6.6" height="6.6" fill="#0C73EB"/>
<rect x="520.99" y="234.20" width="6.6" height="6.6" fill="#0C73EB"/>
<path d="M538.94,234.69L543.54,239.29M538.94,239.29L543.54,234.69" stroke="#0C73EB" stroke-width="1.3" fill="none"/>
<path d="M555.88,234.29L560.48,238.89M555.88,238.89L560.48,234.29" stroke="#0C73EB" stroke-width="1.3" fill="none"/>
<rect x="571.83" y="233.29" width="6.6" height="6.6" fill="#0C73EB"/>
<rect x="588.77" y="233.69" width="6.6" height="6.6" fill="#0C73EB"/>
<rect x="605.72" y="233.69" width="6.6" height="6.6" fill="#0C73EB"/>
<path d="M623.66,234.69L628.26,239.29M623.66,239.29L628.26,234.69" stroke="#0C73EB" stroke-width="1.3" fill="none"/>
<path d="M640.61,234.40L645.21,239.00M640.61,239.00L645.21,234.40" stroke="#0C73EB" stroke-width="1.3" fill="none"/>
<path d="M657.55,234.29L662.15,238.89M657.55,238.89L662.15,234.29" stroke="#0C73EB" stroke-width="1.3" fill="none"/>
<rect x="673.50" y="237.66" width="6.6" height="6.6" fill="#0C73EB"/>
</g>
<rect x="490.4" y="185.3" width="186.40" height="113.60" fill="none" stroke="#474747" stroke-width="0.9"/>
<text x="569.07" y="322.70" font-size="8.42" textLength="29.06" lengthAdjust="spacingAndGlyphs" fill="#1c1c1c">Months</text>
<text x="490.50" y="180.60" font-size="10.23" textLength="10.93" lengthAdjust="spacingAndGlyphs" fill="#1c1c1c">(f)</text>
<text x="551.74" y="180.90" font-size="10.23" textLength="63.72" lengthAdjust="spacingAndGlyphs" font-weight="bold" fill="#000">Δ Temp [°C]</text>
<line x1="496.00" y1="274.70" x2="514.70" y2="274.70" stroke="#C8005A" stroke-width="2.7" />
<text x="519.80" y="277.70" font-size="8.42" textLength="70.54" lengthAdjust="spacingAndGlyphs" fill="#1c1c1c">4xCO2 - piControl</text>
<line x1="496.00" y1="286.80" x2="514.70" y2="286.80" stroke="#0C73EB" stroke-width="2.7" />
<text x="522.80" y="289.80" font-size="8.42" textLength="67.71" lengthAdjust="spacingAndGlyphs" fill="#1c1c1c">G1ext - piControl</text>
<rect x="603.40" y="272.70" width="5.2" height="5.2" fill="#000"/>
<path d="M603.80,285.50L608.20,289.90M603.80,289.90L608.20,285.50" stroke="#000" stroke-width="1.0" fill="none"/>
<text x="620.60" y="277.70" font-size="8.42" textLength="41.05" lengthAdjust="spacingAndGlyphs" fill="#1c1c1c">significant</text>
<text x="620.60" y="289.80" font-size="8.42" textLength="48.30" lengthAdjust="spacingAndGlyphs" fill="#1c1c1c">insignificant</text>
</svg>
</body></html>
